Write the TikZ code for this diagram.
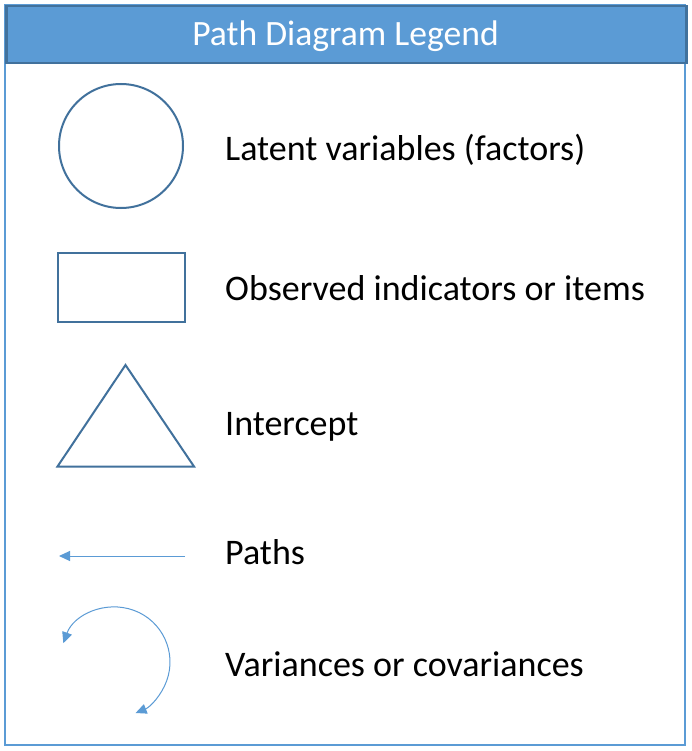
\documentclass[tikz,border=0pt]{standalone}
\usepackage{fontspec}
\setmainfont{Carlito}
\usetikzlibrary{arrows.meta}
\definecolor{hdrfill}{HTML}{5B9BD5}
\definecolor{hdrline}{HTML}{41719C}
\definecolor{shapeline}{HTML}{41719C}
\definecolor{arrowcol}{HTML}{5B9BD5}
\tikzset{
  shapestyle/.style={draw=shapeline, line width=2pt},
  labeltext/.style={anchor=base west, inner sep=0pt, font=\fontsize{36}{40}\selectfont, text=black},
  arrowline/.style={draw=arrowcol, line width=1pt, -{Triangle[length=11pt,width=10pt]}},
}
\begin{document}
\begin{tikzpicture}[x=1pt,y=-1pt]
\useasboundingbox (0,0) rectangle (691,751);
% outer frame
\draw[draw=hdrfill, line width=2.5pt, fill=white] (5,5) rectangle (685,745);
% header
\node[draw=hdrline, line width=2.5pt, fill=hdrfill, minimum width=680pt, minimum height=57pt, inner sep=0pt, anchor=north west] (header) at (5,5) {};
\node[text=white, font=\fontsize{35.6}{40}\selectfont, inner sep=0pt, anchor=base] (title) at (345.5,46) {Path Diagram Legend};
% shapes
\node[shapestyle, circle, minimum size=124pt, inner sep=0pt] (latent) at (121,146) {};
\node[shapestyle, rectangle, minimum width=127pt, minimum height=69pt, inner sep=0pt] (observed) at (121.5,287.5) {};
\coordinate (tA) at (125.5,365);
\coordinate (tB) at (194,466.5);
\coordinate (tC) at (57.5,466.5);
\draw[shapestyle, line join=miter] (tA) -- (tB) -- (tC) -- cycle;
% path arrow
\coordinate (pathstart) at (185,556);
\coordinate (pathend) at (59,556);
\draw[arrowline] (pathstart) -- (pathend);
% variance arrow
\coordinate (varc) at (115,662);
\draw[draw=arrowcol, line width=1pt, {Triangle[length=11pt,width=10pt]}-{Triangle[length=11pt,width=10pt]}] ([shift={(-160:55)}]varc) arc[start angle=-160, end angle=68, radius=55];
% labels
\node[labeltext] (l1) at (225,161) {Latent variables (factors)};
\node[labeltext] (l2) at (225,300) {Observed indicators or items};
\node[labeltext] (l3) at (225,435) {Intercept};
\node[labeltext] (l4) at (225,564) {Paths};
\node[labeltext] (l5) at (225,676) {Variances or covariances};
\end{tikzpicture}
\end{document}
